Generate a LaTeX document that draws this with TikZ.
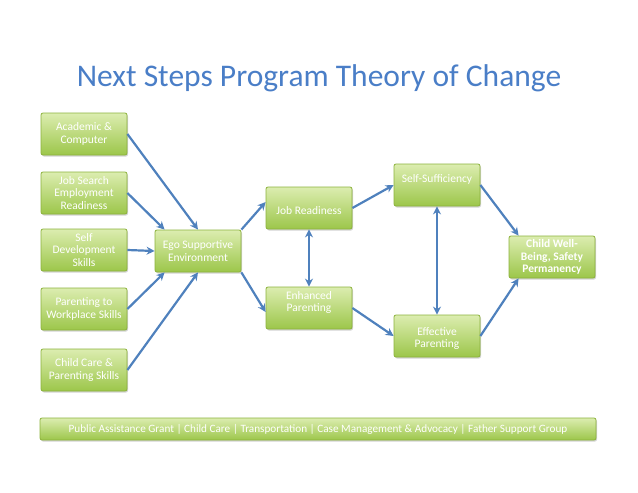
\documentclass[tikz,border=0pt]{standalone}
\usepackage{fontspec}
\setmainfont{Carlito}
\usetikzlibrary{shadows,arrows.meta}
\definecolor{gtop}{HTML}{DCEDB0}
\definecolor{gbot}{HTML}{9CC64A}
\definecolor{gbrd}{HTML}{8CB23C}
\definecolor{arr}{HTML}{4F81BD}
\definecolor{ttl}{HTML}{4A7EC7}
\tikzset{
 box/.style={draw=gbrd,line width=0.8pt,top color=gtop,bottom color=gbot,rounded corners=2pt,
   minimum width=86pt,minimum height=42pt,align=center,text=white,font=\fontsize{11.5}{12.5}\selectfont,
   inner sep=1pt,drop shadow={shadow xshift=1pt,shadow yshift=-1.5pt,opacity=0.35}},
 con/.style={draw=arr,line width=2.2pt,-{Stealth[length=8pt,width=8pt]}},
 dcon/.style={draw=arr,line width=2.2pt,{Stealth[length=8pt,width=8pt]}-{Stealth[length=8pt,width=8pt]}}
}
\begin{document}
\begin{tikzpicture}[x=1pt,y=-1pt]
\useasboundingbox (0,0) rectangle (638,493);
\node[text=ttl,font=\fontsize{31.5}{34}\selectfont] (title) at (319,78) {Next Steps Program Theory of Change};
\node[box] (a) at (84,134) {Academic \&\\Computer};
\node[box] (b) at (84,193) {Job Search\\Employment\\Readiness};
\node[box] (c) at (84,250) {Self\\Development\\Skills};
\node[box,inner sep=0pt] (d) at (84,309) {Parenting to\\Workplace Skills};
\node[box] (e) at (84,370) {Child Care \&\\Parenting Skills};
\node[box] (ego) at (198,251) {Ego Supportive\\Environment};
\node[box] (jr) at (309,208) {\\Job Readiness};
\node[box] (ep) at (309,308) {Enhanced\\Parenting\\ \ };
\node[box] (ss) at (437,185) {Self-Sufficiency\\ \ };
\node[box] (ef) at (437,336) {\ \\Effective\\Parenting};
\node[box,font=\bfseries\fontsize{11.5}{12.5}\selectfont] (cw) at (552,257) {Child Well-\\Being, Safety\\Permanency};
\node[box,minimum width=556pt,minimum height=22pt,font=\fontsize{11.2}{12}\selectfont] (bar) at (318,429)
 {Public Assistance Grant | Child Care | Transportation | Case Management \& Advocacy | Father Support Group};
\draw[con] (a.east) -- (ego.north);
\draw[con] (b.east) -- ([xshift=10pt]ego.north west);
\draw[con] (c.east) -- (ego.west);
\draw[con] (d.east) -- ([xshift=10pt]ego.south west);
\draw[con] (e.east) -- (ego.south);
\draw[con] (ego.north east) -- ([yshift=6pt]jr.west);
\draw[con] (ego.south east) -- ([yshift=-4pt]ep.west);
\draw[dcon] (jr.south) -- (ep.north);
\draw[con] (jr.east) -- (ss.west);
\draw[con] (ep.east) -- (ef.west);
\draw[dcon] (ss.south) -- (ef.north);
\draw[con] (ss.east) -- ([xshift=10pt]cw.north west);
\draw[con] (ef.east) -- ([xshift=10pt]cw.south west);
\end{tikzpicture}
\end{document}
